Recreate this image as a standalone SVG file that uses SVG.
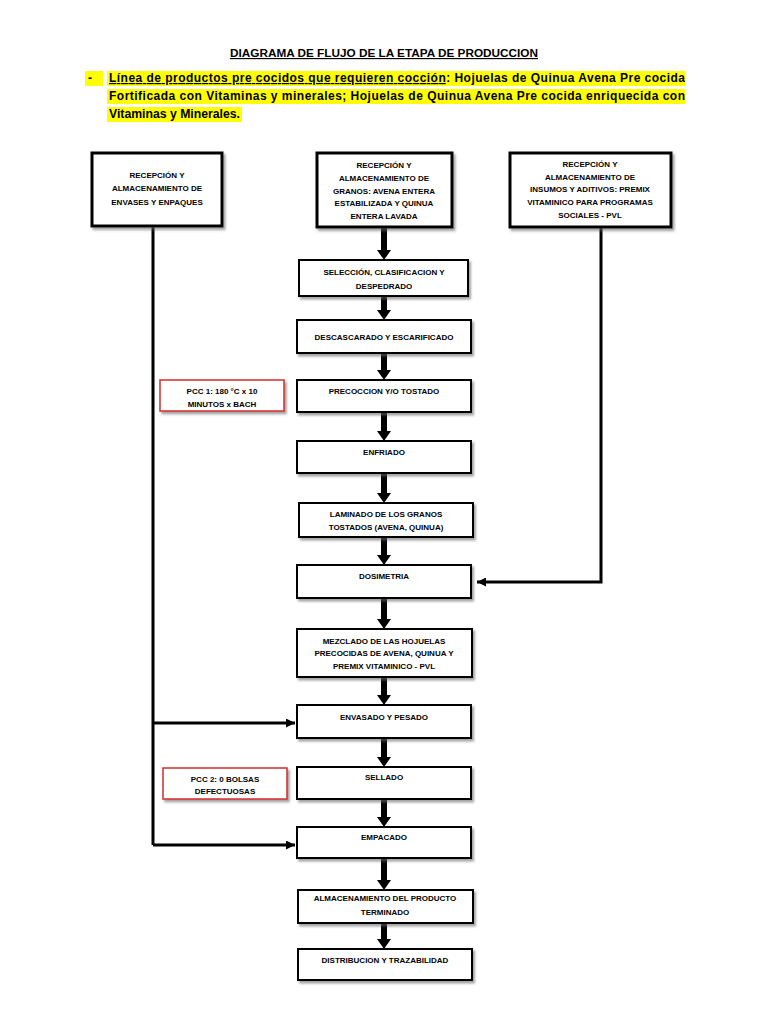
<svg xmlns="http://www.w3.org/2000/svg" width="768" height="1024" viewBox="0 0 768 1024">
<style>
.bx{fill:#fff;stroke:#000;stroke-width:2;filter:url(#sh)}
.bxt{fill:#fff;stroke:#000;stroke-width:3;filter:url(#sh)}
.pcc{fill:#fff;stroke:#d42a2a;stroke-width:1.5;filter:url(#sh)}
.t{font-family:"Liberation Sans",Arial,sans-serif;font-weight:bold;font-size:8px;fill:#000;text-anchor:middle}
.ln{fill:none;stroke:#000;stroke-width:3}
.ar{fill:#000}
.hl{fill:#ffff00}
.p{font-family:"Liberation Sans",Arial,sans-serif;font-weight:bold;font-size:12px;fill:#000}
</style>
<defs>
<filter id="sh" x="-10%" y="-10%" width="130%" height="140%">
<feDropShadow dx="2" dy="2.5" stdDeviation="1" flood-color="#666" flood-opacity="0.6"/>
</filter>
<marker id="ah" viewBox="0 0 10 10" refX="10" refY="5" markerWidth="3" markerHeight="3" orient="auto" markerUnits="strokeWidth">
<path d="M0,0 L10,5 L0,10 Z" fill="#000"/>
</marker>
</defs>
<rect width="768" height="1024" fill="#fff"/>

<g id="header">
<text x="384" y="57" font-family="'Liberation Sans',Arial,sans-serif" font-weight="bold" font-size="11.6" text-anchor="middle" textLength="308" lengthAdjust="spacingAndGlyphs" text-decoration="underline">DIAGRAMA DE FLUJO DE LA ETAPA DE PRODUCCION</text>
<rect class="hl" x="85" y="71" width="18" height="15"/>
<rect class="hl" x="107" y="71" width="578" height="15"/>
<rect class="hl" x="107" y="89" width="578" height="15"/>
<rect class="hl" x="107" y="107" width="135" height="15"/>
<text class="p" x="88" y="82">-</text>
<text class="p" x="109" y="82" textLength="576" lengthAdjust="spacing"><tspan text-decoration="underline">Línea de productos pre cocidos que requieren cocción</tspan>: Hojuelas de Quinua Avena Pre cocida</text>
<text class="p" x="109" y="100" textLength="576" lengthAdjust="spacing">Fortificada con Vitaminas y minerales; Hojuelas de Quinua Avena Pre cocida enriquecida con</text>
<text class="p" x="109" y="118" textLength="131" lengthAdjust="spacingAndGlyphs">Vitaminas y Minerales.</text>
</g>

<g id="connectors">
<path class="ln" d="M153,226 V845"/>
<path class="ln" d="M153,723 H295" marker-end="url(#ah)"/>
<path class="ln" d="M153,845 H295" marker-end="url(#ah)"/>
<path class="ln" d="M601,227 V582 H477" marker-end="url(#ah)"/>
<g class="ar">
<rect x="381" y="228" width="6" height="23"/><polygon points="377,250 391,250 384,260"/>
<rect x="381" y="297" width="6" height="14"/><polygon points="377,310 391,310 384,320"/>
<rect x="381" y="354" width="6" height="17"/><polygon points="377,370 391,370 384,380"/>
<rect x="381" y="413" width="6" height="19"/><polygon points="377,431 391,431 384,441"/>
<rect x="381" y="474" width="6" height="20"/><polygon points="377,493 391,493 384,503"/>
<rect x="381" y="538" width="6" height="18"/><polygon points="377,555 391,555 384,565"/>
<rect x="381" y="599" width="6" height="21"/><polygon points="377,619 391,619 384,629"/>
<rect x="381" y="678" width="6" height="18"/><polygon points="377,695 391,695 384,705"/>
<rect x="381" y="739" width="6" height="19"/><polygon points="377,757 391,757 384,767"/>
<rect x="381" y="800" width="6" height="18"/><polygon points="377,817 391,817 384,827"/>
<rect x="381" y="859" width="6" height="22"/><polygon points="377,880 391,880 384,890"/>
<rect x="381" y="924" width="6" height="16"/><polygon points="377,939 391,939 384,949"/>
</g>
</g>

<g id="n-envases">
<rect class="bxt" x="92" y="153" width="130" height="73"/>
<text class="t" x="157" y="178">RECEPCIÓN Y</text>
<text class="t" x="157" y="191">ALMACENAMIENTO DE</text>
<text class="t" x="157" y="205">ENVASES Y ENPAQUES</text>
</g>

<g id="n-granos">
<rect class="bxt" x="317" y="153" width="135" height="74"/>
<text class="t" x="384" y="168">RECEPCIÓN Y</text>
<text class="t" x="384" y="181">ALMACENAMIENTO DE</text>
<text class="t" x="384" y="194">GRANOS: AVENA ENTERA</text>
<text class="t" x="384" y="206">ESTABILIZADA Y QUINUA</text>
<text class="t" x="384" y="219">ENTERA LAVADA</text>
</g>

<g id="n-insumos">
<rect class="bxt" x="510" y="153" width="161" height="74"/>
<text class="t" x="590" y="167">RECEPCIÓN Y</text>
<text class="t" x="590" y="180">ALMACENAMIENTO DE</text>
<text class="t" x="590" y="192">INSUMOS Y ADITIVOS: PREMIX</text>
<text class="t" x="590" y="205">VITAMINICO PARA PROGRAMAS</text>
<text class="t" x="590" y="218">SOCIALES -  PVL</text>
</g>

<g id="n-seleccion">
<rect class="bx" x="299" y="260" width="169" height="36"/>
<text class="t" x="384" y="275">SELECCIÓN, CLASIFICACION Y</text>
<text class="t" x="384" y="289">DESPEDRADO</text>
</g>

<g id="n-descascarado">
<rect class="bx" x="297" y="320" width="174" height="33"/>
<text class="t" x="384" y="340">DESCASCARADO Y ESCARIFICADO</text>
</g>

<g id="n-precoccion">
<rect class="bx" x="297" y="380" width="174" height="32"/>
<text class="t" x="384" y="394">PRECOCCION Y/O TOSTADO</text>
</g>

<g id="n-pcc1">
<rect class="pcc" x="160" y="380" width="124" height="31"/>
<text class="t" x="222" y="394">PCC 1: 180 °C x 10</text>
<text class="t" x="222" y="407">MINUTOS x BACH</text>
</g>

<g id="n-enfriado">
<rect class="bx" x="297" y="441" width="174" height="32"/>
<text class="t" x="384" y="455">ENFRIADO</text>
</g>

<g id="n-laminado">
<rect class="bx" x="299" y="503" width="174" height="34"/>
<text class="t" x="386" y="517">LAMINADO DE LOS GRANOS</text>
<text class="t" x="386" y="530">TOSTADOS (AVENA, QUINUA)</text>
</g>

<g id="n-dosimetria">
<rect class="bx" x="297" y="565" width="174" height="33"/>
<text class="t" x="384" y="579">DOSIMETRIA</text>
</g>

<g id="n-mezclado">
<rect class="bx" x="297" y="629" width="175" height="48"/>
<text class="t" x="384" y="644">MEZCLADO DE LAS HOJUELAS</text>
<text class="t" x="384" y="656">PRECOCIDAS DE AVENA, QUINUA Y</text>
<text class="t" x="384" y="669">PREMIX VITAMINICO -  PVL</text>
</g>

<g id="n-envasado">
<rect class="bx" x="297" y="705" width="174" height="33"/>
<text class="t" x="384" y="720">ENVASADO Y PESADO</text>
</g>

<g id="n-sellado">
<rect class="bx" x="297" y="767" width="174" height="32"/>
<text class="t" x="384" y="780">SELLADO</text>
</g>

<g id="n-pcc2">
<rect class="pcc" x="163" y="768" width="124" height="31"/>
<text class="t" x="225" y="782">PCC 2: 0 BOLSAS</text>
<text class="t" x="225" y="794">DEFECTUOSAS</text>
</g>

<g id="n-empacado">
<rect class="bx" x="297" y="827" width="174" height="31"/>
<text class="t" x="384" y="840">EMPACADO</text>
</g>

<g id="n-almacenamiento">
<rect class="bx" x="298" y="890" width="175" height="33"/>
<text class="t" x="385" y="901">ALMACENAMIENTO DEL PRODUCTO</text>
<text class="t" x="385" y="915">TERMINADO</text>
</g>

<g id="n-distribucion">
<rect class="bx" x="298" y="949" width="174" height="31"/>
<text class="t" x="385" y="963">DISTRIBUCION Y TRAZABILIDAD</text>
</g>
</svg>
